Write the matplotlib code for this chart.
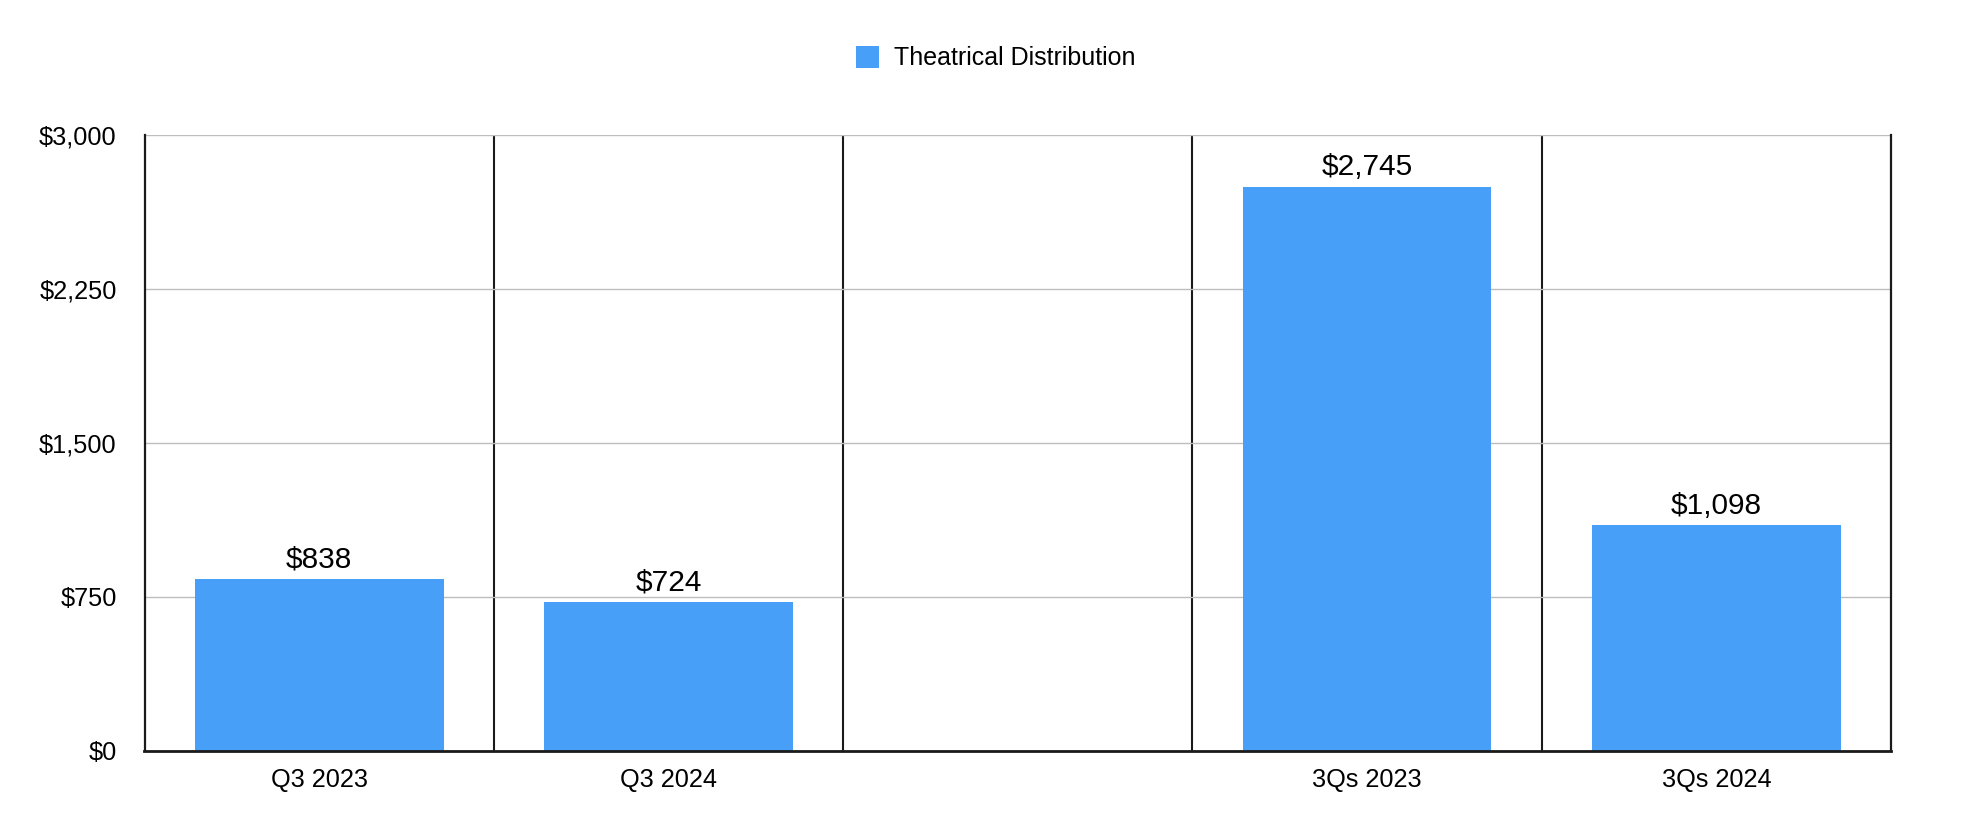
import numpy as np
import matplotlib
matplotlib.use("Agg")
import matplotlib.pyplot as plt
from matplotlib.ticker import FuncFormatter, FixedLocator

plt.rcParams['font.family'] = ['Liberation Sans', 'DejaVu Sans']

# data (third slot is an empty spacer category in the original chart)
categories = ["Q3 2023", "Q3 2024", "", "3Qs 2023", "3Qs 2024"]
theatrical = [838, 724, np.nan, 2745, 1098]
y_ticks = [0, 750, 1500, 2250, 3000]

bar_color = '#479FF8'

fig = plt.figure(figsize=(19.64, 8.32), dpi=100)
ax = fig.add_axes([144.5 / 1964, 1 - 751 / 832, (1891 - 144.5) / 1964, (751 - 134.5) / 832])

x = np.arange(len(categories))
bars = ax.bar(x, theatrical, width=0.712, color=bar_color, label="Theatrical Distribution", zorder=3)

labels = ['' if np.isnan(v) else f'${v:,.0f}' for v in theatrical]
ax.bar_label(bars, labels=labels, padding=4, fontsize=21.5, color='black')

ax.set_xlim(-0.5, len(categories) - 0.5)
ax.set_ylim(0, 3000)
ax.set_yticks(y_ticks)
ax.yaxis.set_major_formatter(FuncFormatter(lambda v, p: f'${v:,.0f}'))
ax.set_xticks(x)
ax.set_xticklabels(categories)

# black separators between categories, grey horizontal gridlines
ax.xaxis.set_minor_locator(FixedLocator(x[:-1] + 0.5))
ax.grid(which='minor', axis='x', color='#1a1a1a', linewidth=1.5, zorder=2)
ax.grid(which='major', axis='y', color='#bdbdbd', linewidth=1.0, zorder=1)
ax.grid(which='major', axis='x', visible=False)

ax.tick_params(axis='both', which='both', length=0, labelsize=18.3)
ax.tick_params(axis='y', pad=20)
ax.tick_params(axis='x', pad=12)

for side in ['left', 'right', 'bottom']:
    ax.spines[side].set_color('#1a1a1a')
    ax.spines[side].set_linewidth(1.6)
ax.spines['bottom'].set_linewidth(2.0)
ax.spines['top'].set_visible(False)
ax.spines['bottom'].set_zorder(4)

fig.legend(loc='center', bbox_to_anchor=(0.507, 1 - 58 / 832), frameon=False,
           fontsize=18, handlelength=0.92, handleheight=0.96, handletextpad=0.6)

fig.savefig('out.png', dpi=100, facecolor='white')
